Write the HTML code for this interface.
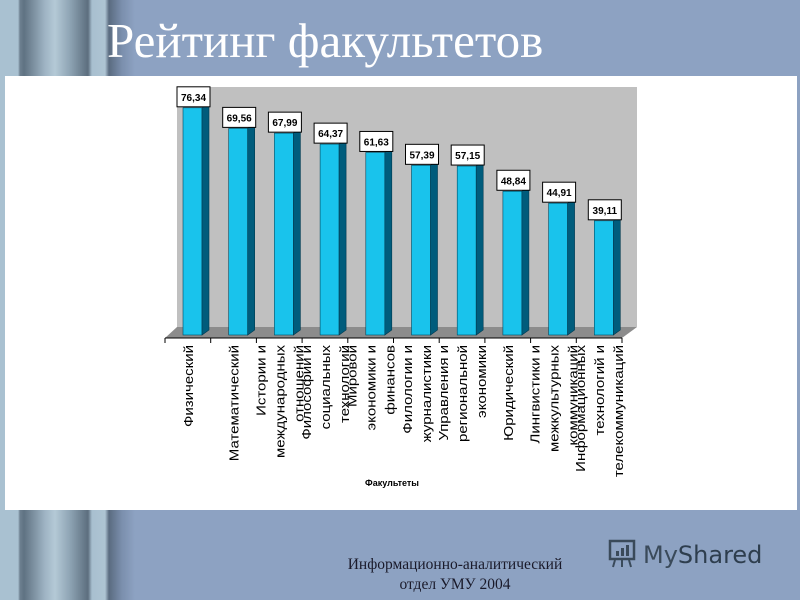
<!DOCTYPE html>
<html><head><meta charset="utf-8"><style>
body{margin:0;width:800px;height:600px;overflow:hidden;background:#8da2c2;font-family:"Liberation Sans",sans-serif}
#deco{position:absolute;left:0;top:0;width:135px;height:600px;background:linear-gradient(90deg,#a9c1d1 0,#a9c1d1 18px,#6d8090 20px,#5f7282 24px,#9fb4c4 45px,#b4c9d6 55px,#8ea4b4 70px,#5c6e7e 88px,#a8bfcf 92px,#aec4d3 105px,#5a6b80 109px,#7b8fad 122px,#8da2c2 135px)}
#title{position:absolute;left:107px;top:12px;font-family:"Liberation Serif",serif;font-size:49px;color:#fff;white-space:nowrap}
#panel{position:absolute;left:5px;top:76px;width:792px;height:434px;background:#fff}
.foot{position:absolute;left:305px;width:300px;text-align:center;font-family:"Liberation Serif",serif;font-size:15.5px;color:#1a1a2a}
</style></head><body>
<div id="deco"></div>
<div id="title">Рейтинг факультетов</div>
<div id="panel"></div>
<svg id="chart" width="800" height="600" style="position:absolute;left:0;top:0"></svg>
<div class="foot" style="top:556px">Информационно-аналитический</div>
<div class="foot" style="top:576px">отдел УМУ 2004</div>
<svg style="position:absolute;left:605px;top:535px" width="170" height="40">
<rect x="5" y="6" width="24" height="18" fill="none" stroke="#3a4a5a" stroke-width="2.5"/>
<rect x="11" y="16" width="3" height="5" fill="#3a4a5a"/><rect x="16" y="13" width="3" height="8" fill="#3a4a5a"/><rect x="21" y="10" width="3" height="11" fill="#3a4a5a"/>
<path d="M10 25 L8 32 M17 25 V32 M24 25 L26 32" stroke="#3a4a5a" stroke-width="2"/>
<text x="38" y="28" font-family="DejaVu Sans,sans-serif" font-size="24" fill="#3a4a5a">My<tspan fill="#2e3e4e">Shared</tspan></text>
</svg>
<script>
const categories=[["Физический"],["Математический"],["Истории и","международных","отношений"],["Философии и","социальных","технологий"],["Мировой","экономики и","финансов"],["Филологии и","журналистики"],["Управления и","региональной","экономики"],["Юридический"],["Лингвистики и","межкультурных","коммуникаций"],["Информационных","технологий и","телекоммуникаций"]];
const values=[76.34,69.56,67.99,64.37,61.63,57.39,57.15,48.84,44.91,39.11];
const valueLabels=["76,34","69,56","67,99","64,37","61,63","57,39","57,15","48,84","44,91","39,11"];
const NS="http://www.w3.org/2000/svg";
const svg=document.getElementById('chart');
function mk(t,a,p){const e=document.createElementNS(NS,t);for(const k in a)e.setAttribute(k,a[k]);(p||svg).appendChild(e);return e;}
const x0=165,step=45.7,zeroY=339.5,scale=3.035;
const xs=i=>x0+i*step;
const ys=v=>zeroY-v*scale;
let w=mk('path',{d:'M177 87 H637 V327 H177 Z',fill:'#c0c0c0'});

let f=mk('path',{d:'M177 327 H637 L622 338 H165 Z',fill:'#8c8c8c'});

let ax=mk('path',{d:'M165 338 H622',stroke:'#000','stroke-width':1});

for(let i=0;i<=categories.length;i++){const t=mk('line',{x1:xs(i),x2:xs(i),y1:338,y2:343,stroke:'#000'});
}
values.forEach((v,i)=>{
 const g=mk('g',{});
 
 
 const bx=xs(i)+18,top=ys(v),bot=335;
 mk('rect',{x:bx,y:top,width:19,height:bot-top,fill:'#19c3ec',stroke:'#004a60','stroke-width':0.6},g);
 mk('path',{d:`M${bx+19} ${top} L${bx+26} ${top-4} V${bot-5} L${bx+19} ${bot} Z`,fill:'#005c7c',stroke:'#003a50','stroke-width':0.6},g);
 const lb=mk('g',{});
 
 
 mk('rect',{x:bx-6,y:top-21,width:33,height:20,fill:'#fff',stroke:'#000','stroke-width':1},lb);
 const tx=mk('text',{x:bx+10.5,y:top-7,'text-anchor':'middle','font-size':10,'font-weight':'bold',fill:'#000'},lb);
 tx.textContent=valueLabels[i];
 const lines=categories[i],n=lines.length,cx=xs(i)+step/2;
 lines.forEach((s,j)=>{
  const lx=cx+(j-(n-1)/2)*19+5;
  const t=mk('text',{x:0,y:0,transform:`translate(${lx},345) rotate(-90) scale(1.2,1)`,'text-anchor':'end','font-size':12.5,fill:'#000'});
  
  
  t.textContent=s;
 });
});
const at=mk('text',{x:392,y:486,'text-anchor':'middle','font-size':9,'font-weight':'bold',fill:'#000'});


at.textContent='Факультеты';
</script>
</body></html>
